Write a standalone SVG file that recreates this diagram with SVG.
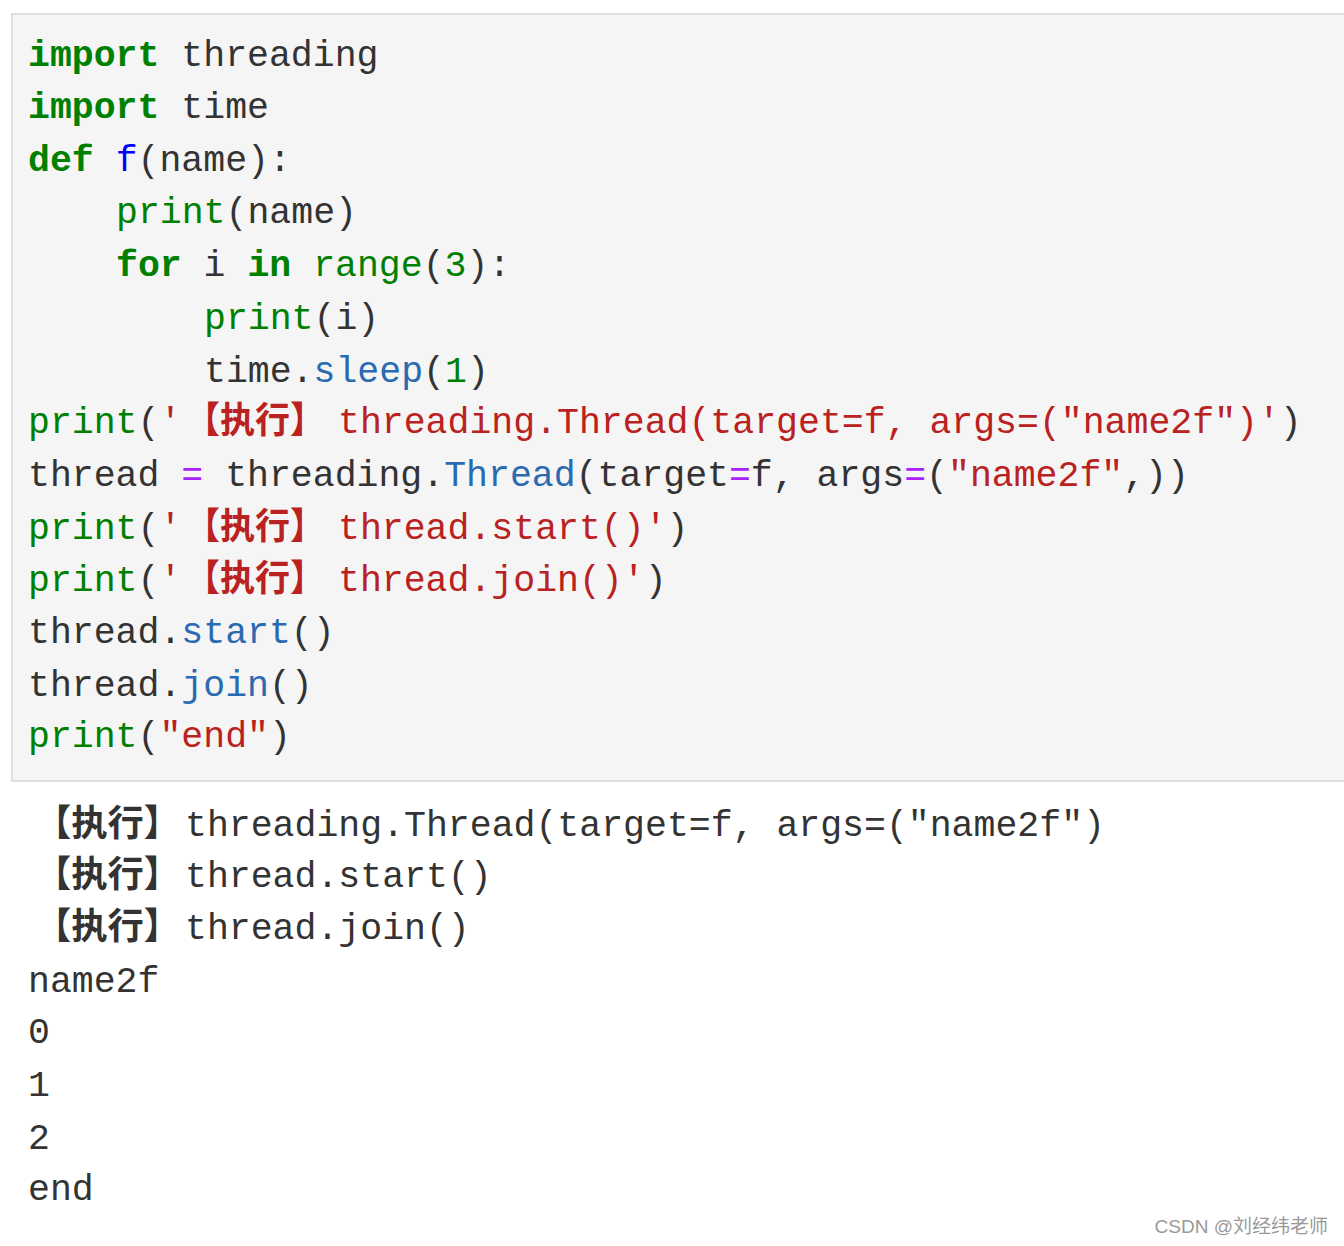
<svg xmlns="http://www.w3.org/2000/svg" width="1344" height="1246" viewBox="0 0 1344 1246">
<style>
text{font-family:"Liberation Mono","Noto Sans CJK SC",monospace;font-size:36.5px;fill:#333;white-space:pre}
.k{fill:#008000;font-weight:bold}
.b{fill:#008000}
.f{fill:#0000ff}
.m{fill:#2a6ab0}
.s{fill:#ba2121}
.o{fill:#aa22ff}
.c{font-family:"Noto Sans CJK SC",sans-serif;font-weight:bold}
.w{font-family:"Liberation Sans","Noto Sans CJK SC",sans-serif;font-size:19px;fill:#999}
</style>
<rect width="1344" height="1246" fill="#fff"/>
<rect x="12" y="14" width="1340" height="767" fill="#f5f5f5" stroke="#e0e0e0" stroke-width="2"/>
<g id="code">
<text x="28" y="66"><tspan class="k">import</tspan> threading</text>
<text x="28" y="118"><tspan class="k">import</tspan> time</text>
<text x="28" y="171"><tspan class="k">def</tspan> <tspan class="f">f</tspan>(name):</text>
<text x="116" y="223"><tspan class="b">print</tspan>(name)</text>
<text x="116" y="276"><tspan class="k">for</tspan> i <tspan class="k">in</tspan> <tspan class="b">range</tspan>(<tspan class="b">3</tspan>):</text>
<text x="204" y="329"><tspan class="b">print</tspan>(i)</text>
<text x="204" y="382">time.<tspan class="m">sleep</tspan>(<tspan class="b">1</tspan>)</text>
<text x="28" y="433"><tspan class="b">print</tspan>(<tspan class="s">'</tspan></text>
<text x="185" y="433" class="s c" textLength="140" lengthAdjust="spacingAndGlyphs">【执行】</text>
<text x="338" y="433"><tspan class="s">threading.Thread(target=f, args=("name2f")'</tspan>)</text>
<text x="28" y="486">thread <tspan class="o">=</tspan> threading.<tspan class="m">Thread</tspan>(target<tspan class="o">=</tspan>f, args<tspan class="o">=</tspan>(<tspan class="s">"name2f"</tspan>,))</text>
<text x="28" y="539"><tspan class="b">print</tspan>(<tspan class="s">'</tspan></text>
<text x="185" y="539" class="s c" textLength="140" lengthAdjust="spacingAndGlyphs">【执行】</text>
<text x="338" y="539"><tspan class="s">thread.start()'</tspan>)</text>
<text x="28" y="591"><tspan class="b">print</tspan>(<tspan class="s">'</tspan></text>
<text x="185" y="591" class="s c" textLength="140" lengthAdjust="spacingAndGlyphs">【执行】</text>
<text x="338" y="591"><tspan class="s">thread.join()'</tspan>)</text>
<text x="28" y="643">thread.<tspan class="m">start</tspan>()</text>
<text x="28" y="696">thread.<tspan class="m">join</tspan>()</text>
<text x="28" y="747"><tspan class="b">print</tspan>(<tspan class="s">"end"</tspan>)</text>
</g>
<g id="output">
<text x="35" y="836" class="c" textLength="145" lengthAdjust="spacingAndGlyphs">【执行】</text>
<text x="185" y="836">threading.Thread(target=f, args=("name2f")</text>
<text x="35" y="887" class="c" textLength="145" lengthAdjust="spacingAndGlyphs">【执行】</text>
<text x="185" y="887">thread.start()</text>
<text x="35" y="939" class="c" textLength="145" lengthAdjust="spacingAndGlyphs">【执行】</text>
<text x="185" y="939">thread.join()</text>
<text x="28" y="992">name2f</text>
<text x="28" y="1043">0</text>
<text x="28" y="1096">1</text>
<text x="28" y="1149">2</text>
<text x="28" y="1200">end</text>
</g>
<text x="1328" y="1233" class="w" text-anchor="end">CSDN @刘经纬老师</text>
</svg>
